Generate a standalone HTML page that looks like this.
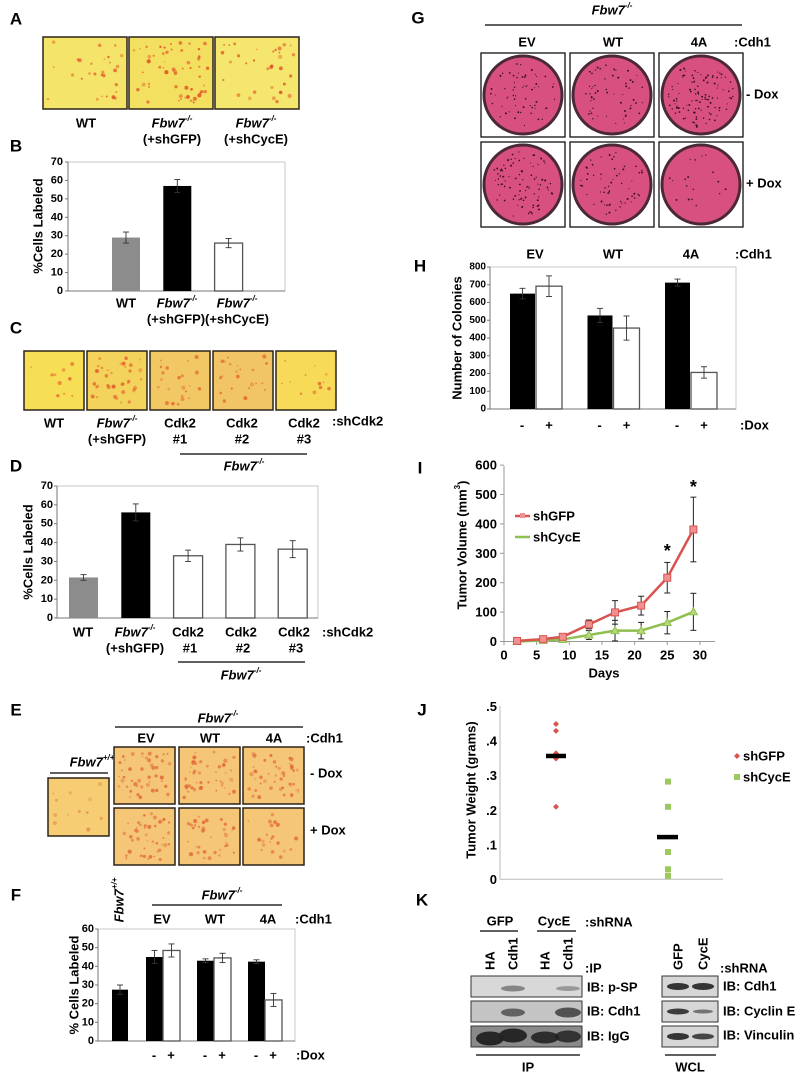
<!DOCTYPE html>
<html><head><meta charset="utf-8"><style>
html,body{margin:0;padding:0;background:#fff}
svg{display:block;font-family:"Liberation Sans",Arial,sans-serif;font-weight:bold}
text{fill:#000}
</style></head><body>
<svg id="fig" width="800" height="1073" viewBox="0 0 800 1073" xmlns="http://www.w3.org/2000/svg">
<g id="root"></g>
</svg>
<script>
// ---------- DATA ----------
const bCats = ["WT","Fbw7-/- (+shGFP)","Fbw7-/- (+shCycE)"];
const bVals = [29, 57, 26];
const bErr = [3, 3.5, 2.5];
const bTicks = [0,10,20,30,40,50,60,70];

const dCats = ["WT","Fbw7-/- (+shGFP)","Cdk2 #1","Cdk2 #2","Cdk2 #3"];
const dVals = [21.5, 56, 33, 39, 36.5];
const dErr = [1.5, 4.5, 3, 3.5, 4.5];
const dTicks = [0,10,20,30,40,50,60,70];

const fWT = 27.5, fWTErr = 2.5;
const fGroups = ["EV","WT","4A"];
const fMinus = [45, 43, 42.5];
const fMinusErr = [3.5, 1, 1];
const fPlus = [48.5, 44.5, 22];
const fPlusErr = [3.5, 2.5, 3.5];
const fTicks = [0,10,20,30,40,50,60];

const hGroups = ["EV","WT","4A"];
const hMinus = [650, 527, 712];
const hMinusErr = [30, 40, 20];
const hPlus = [692, 456, 206];
const hPlusErr = [58, 68, 32];
const hTicks = [0,100,200,300,400,500,600,700,800];

const iDays = [2,6,9,13,17,21,25,29];
const iGFP = [2, 8, 16, 58, 99, 122, 217, 381];
const iGFPErr = [0, 3, 5, 15, 40, 32, 52, 110];
const iCyc = [0, 4, 7, 22, 37, 37, 64, 101];
const iCycErr = [0, 2, 3, 15, 35, 28, 38, 63];
const iXTicks = [0,5,10,15,20,25,30];
const iYTicks = [0,100,200,300,400,500,600];

const jGFP = [0.45, 0.43, 0.365, 0.35, 0.21];
const jGFPMean = 0.358;
const jCyc = [0.283, 0.21, 0.079, 0.029, 0.01];
const jCycMean = 0.123;
const jTicks = [0,0.1,0.2,0.3,0.4,0.5];
const jTickLabels = ["0",".1",".2",".3",".4",".5"];

// ---------- HELPERS ----------
const NS = "http://www.w3.org/2000/svg";
const root = document.getElementById("root");
function mk(tag, attrs, name, parent){
  const el = document.createElementNS(NS, tag);
  for (const k in attrs) el.setAttribute(k, attrs[k]);
  
  
  (parent||root).appendChild(el);
  return el;
}
function txt(x,y,s,name,o){
  o=o||{};
  const el = mk("text",{x:x,y:y,"font-size":o.fs||13,"text-anchor":o.anchor||"middle","dominant-baseline":"central"},name);
  if(o.italic) el.setAttribute("font-style","italic");
  if(o.rot){ el.setAttribute("transform","rotate("+o.rot+" "+x+" "+y+")"); }
  el.textContent = s;
  return el;
}
function fbw(x,y,name,sup,fs,anchor,rot){
  const el = mk("text",{x:x,y:y,"font-size":fs||13,"text-anchor":anchor||"middle","dominant-baseline":"central","font-style":"italic"},name);
  if(rot) el.setAttribute("transform","rotate("+rot+" "+x+" "+y+")");
  el.appendChild(document.createTextNode("Fbw7"));
  const s = document.createElementNS(NS,"tspan");
  s.setAttribute("font-size","8"); s.setAttribute("dy","-5");
  s.textContent = sup||"-/-";
  el.appendChild(s);
  return el;
}
function line(x1,y1,x2,y2,name,c,w){return mk("line",{x1:x1,y1:y1,x2:x2,y2:y2,stroke:c||"#000","stroke-width":w||1.2},name);}
let seed=7;
function rnd(){seed=(seed*16807)%2147483647;return seed/2147483647;}
function micro(x,y,w,h,bg,dot,n,name){
  mk("rect",{x:x,y:y,width:w,height:h,fill:bg,stroke:"#2b2418","stroke-width":1.5},name);
  for(let i=0;i<n;i++){
    mk("circle",{cx:x+5+rnd()*(w-10),cy:y+5+rnd()*(h-10),r:0.8+rnd()*1.3,fill:dot,opacity:0.35+rnd()*0.45},name+"-cell");
  }
}
function plate(x,y,w,h,n,name){
  mk("rect",{x:x,y:y,width:w,height:h,fill:"#fff",stroke:"#111","stroke-width":1.3},name);
  mk("ellipse",{cx:x+w/2,cy:y+h/2,rx:w/2-3,ry:h/2-3,fill:"#d8507f",stroke:"#4a2838","stroke-width":3},name+"-dish");
  for(let i=0;i<n;i++){
    const a=rnd()*6.283,r=Math.sqrt(rnd())*(w/2-9);
    mk("circle",{cx:x+w/2+Math.cos(a)*r,cy:y+h/2+Math.sin(a)*r,r:0.5+rnd()*0.5,fill:"#3a0e22"},name+"-colony");
  }
}
function yAxis(x0,x1,yb,yt,ticks,max,labels,fs,lx){
  const sc=v=>yb-(v/max)*(yb-yt);
  mk("rect",{x:x0,y:yt,width:x1-x0,height:yb-yt,fill:"none",stroke:"#c8c8c8","stroke-width":1},"plot-frame");
  line(x0,yt,x0,yb,"y-axis","#777",1);
  line(x0,yb,x1,yb,"x-axis","#777",1);
  ticks.forEach((t,i)=>{
    line(x0-3,sc(t),x0,sc(t),"y-tick","#777",1);
    txt(lx||x0-4,sc(t),labels?labels[i]:String(t),"y-tick-label",{fs:fs||11,anchor:"end"});
  });
  return sc;
}
function bar(x,w,v,err,sc,fill,name){
  const y=sc(v), yb=sc(0);
  mk("rect",{x:x,y:y,width:w,height:yb-y,fill:fill,stroke:fill==="#fff"?"#555":"none","stroke-width":1.3},name);
  if(err){
    const cx=x+w/2;
    line(cx,sc(v+err),cx,sc(v-err),name+"-error","#333",0.9);
    line(cx-3,sc(v+err),cx+3,sc(v+err),name+"-error-cap","#333",0.9);
    line(cx-3,sc(v-err),cx+3,sc(v-err),name+"-error-cap","#333",0.9);
  }
}

// ---------- PANEL A ----------
txt(16,19,"A","panel-label-a",{fs:17});
[[43,"#f4e46a"],[129,"#f3e060"],[215,"#f5e66e"]].forEach((p,i)=>micro(p[0],37,84,72,p[1],"#e0401e",[28,55,32][i],"micrograph-a-"+(i+1)));
txt(86,123,"WT","label-a-wt");
fbw(172,123,"label-a-fbw7-1"); txt(172,139,"(+shGFP)","label-a-shgfp");
fbw(256,123,"label-a-fbw7-2"); txt(256,139,"(+shCycE)","label-a-shcyce");

// ---------- PANEL B ----------
txt(16,146,"B","panel-label-b",{fs:17});
{
  const sc=yAxis(68,285,291,162,bTicks,70,null,11,63);
  const colors=["#8c8c8c","#000","#fff"];
  const bx=i=>112+i*51.3;
  bVals.forEach((v,i)=>bar(bx(i),28,v,bErr[i],sc,colors[i],"bar-b-"+(i+1)));
  txt(38,226,"%Cells Labeled","y-axis-title-b",{fs:13,rot:-90});
  txt(126,303,"WT","x-label-b-wt");
  fbw(177,303,"x-label-b-fbw7-1"); fbw(237,303,"x-label-b-fbw7-2");
  txt(176,319,"(+shGFP)","x-label-b-shgfp"); txt(237,319,"(+shCycE)","x-label-b-shcyce");
}

// ---------- PANEL C ----------
txt(16,328,"C","panel-label-c",{fs:17});
[[24,"#f6de55"],[87,"#f4d35c"],[150,"#f2c865"],[213,"#f1c466"],[276,"#f6da58"]].forEach((p,i)=>micro(p[0],351,60,59,p[1],"#e25a2a",[10,40,22,22,12][i],"micrograph-c-"+(i+1)));
txt(54,423,"WT","label-c-wt");
fbw(117,423,"label-c-fbw7"); txt(117,439,"(+shGFP)","label-c-shgfp");
["1","2","3"].forEach((n,i)=>{txt(180+i*62,423,"Cdk2","label-c-cdk2-"+n);txt(180+i*62,439,"#"+n,"label-c-num-"+n);});
txt(332,421,":shCdk2","label-c-shcdk2",{anchor:"start"});
line(180,454,307,454,"bracket-c");
fbw(244,466,"label-c-fbw7-bracket");

// ---------- PANEL D ----------
txt(16,466,"D","panel-label-d",{fs:17});
{
  const sc=yAxis(57,318,618,486,dTicks,70,null,11,53);
  const colors=["#8c8c8c","#000","#fff","#fff","#fff"];
  const bx=i=>69+i*52.3;
  dVals.forEach((v,i)=>bar(bx(i),29,v,dErr[i],sc,colors[i],"bar-d-"+(i+1)));
  txt(28,552,"%Cells Labeled","y-axis-title-d",{fs:13,rot:-90});
  txt(83,632,"WT","x-label-d-wt");
  fbw(135,632,"x-label-d-fbw7"); txt(135,648,"(+shGFP)","x-label-d-shgfp");
  ["1","2","3"].forEach((n,i)=>{txt(188+i*53,632,"Cdk2","x-label-d-cdk2-"+n);txt(188+i*53+2,648,"#"+n,"x-label-d-num-"+n);});
  txt(322,632,":shCdk2","x-label-d-shcdk2",{anchor:"start"});
  line(178,662,305,662,"bracket-d");
  fbw(241,675,"x-label-d-fbw7-bracket");
}

// ---------- PANEL E ----------
txt(16,710,"E","panel-label-e",{fs:17});
fbw(218,718,"label-e-fbw7");
line(115,727,303,727,"bracket-e");
["EV","WT","4A"].forEach((s,i)=>txt(146+i*64,738,s,"label-e-"+s.toLowerCase(),{fs:13}));
txt(306,738,":Cdh1","label-e-cdh1",{anchor:"start",fs:13});
fbw(92,762,"label-e-fbw7-wt","+/+");
line(50,773,108,773,"bracket-e-wt");
micro(48,778,61,58,"#f6cd72","#e08050",12,"micrograph-e-wt");
[114,179,243].forEach((x,i)=>{
  micro(x,747,61,57,"#f5c676","#e06035",45,"micrograph-e-minus-"+(i+1));
  micro(x,808,61,57,"#f5c676","#e06035",[45,35,20][i],"micrograph-e-plus-"+(i+1));
});
txt(310,773,"- Dox","label-e-minus-dox",{anchor:"start",fs:13});
txt(310,830,"+ Dox","label-e-plus-dox",{anchor:"start",fs:13});

// ---------- PANEL F ----------
txt(16,895,"F","panel-label-f",{fs:17});
fbw(119,900,"label-f-fbw7-wt","+/+",13,"middle",-90);
fbw(222,895,"label-f-fbw7");
line(152,905,282,905,"bracket-f");
fGroups.forEach((s,i)=>txt(162+i*53,919,s,"label-f-"+s.toLowerCase(),{fs:13}));
txt(295,919,":Cdh1","label-f-cdh1",{anchor:"start",fs:13});
{
  const sc=yAxis(98,295,1041,929,fTicks,60,null,11,94);
  bar(112,16,fWT,fWTErr,sc,"#000","bar-f-wt");
  const gx=i=>146+i*51;
  fGroups.forEach((g,i)=>{
    bar(gx(i),17,fMinus[i],fMinusErr[i],sc,"#000","bar-f-"+g.toLowerCase()+"-minus");
    bar(gx(i)+17,17,fPlus[i],fPlusErr[i],sc,"#fff","bar-f-"+g.toLowerCase()+"-plus");
    txt(gx(i)+8,1055,"-","x-label-f-minus");
    txt(gx(i)+25,1055,"+","x-label-f-plus");
  });
  txt(296,1055,":Dox","x-label-f-dox",{anchor:"start",fs:13});
  txt(74,985,"% Cells Labeled","y-axis-title-f",{fs:13,rot:-90});
}

// ---------- PANEL G ----------
txt(418,18,"G","panel-label-g",{fs:17});
fbw(612,10,"label-g-fbw7");
line(485,25,742,25,"bracket-g");
["EV","WT","4A"].forEach((s,i)=>txt(527+i*86,42,s,"label-g-"+s.toLowerCase(),{fs:13}));
txt(734,42,":Cdh1","label-g-cdh1",{anchor:"start",fs:13});
[481,570,659].forEach((x,i)=>{
  plate(x,53,84,84,[60,55,110][i],"plate-minus-"+(i+1));
  plate(x,142,84,85,[90,60,18][i],"plate-plus-"+(i+1));
});
txt(746,94,"- Dox","label-g-minus-dox",{anchor:"start",fs:13});
txt(746,183,"+ Dox","label-g-plus-dox",{anchor:"start",fs:13});

// ---------- PANEL H ----------
txt(420,266,"H","panel-label-h",{fs:17});
hGroups.forEach((s,i)=>txt(535+i*78,254,s,"label-h-"+s.toLowerCase(),{fs:13}));
txt(735,254,":Cdh1","label-h-cdh1",{anchor:"start",fs:13});
{
  const sc=yAxis(490,736,409,267,hTicks,800,null,10,486);
  const gx=i=>510+i*77.5;
  hGroups.forEach((g,i)=>{
    bar(gx(i),25,hMinus[i],hMinusErr[i],sc,"#000","bar-h-"+g.toLowerCase()+"-minus");
    bar(gx(i)+26,26,hPlus[i],hPlusErr[i],sc,"#fff","bar-h-"+g.toLowerCase()+"-plus");
    txt(gx(i)+12,425,"-","x-label-h-minus");
    txt(gx(i)+39,425,"+","x-label-h-plus");
  });
  txt(740,425,":Dox","x-label-h-dox",{anchor:"start",fs:13});
  txt(457,338,"Number of Colonies","y-axis-title-h",{fs:13,rot:-90});
}

// ---------- PANEL I ----------
txt(420,468,"I","panel-label-i",{fs:17});
{
  const xs=d=>504+d*6.53, ys=v=>641.5-v*0.294;
  line(504,466,504,641.5,"y-axis-i","#999",1);
  line(504,641.5,715,641.5,"x-axis-i","#999",1);
  iYTicks.forEach(t=>{line(500,ys(t),504,ys(t),"y-tick-i","#999",1);txt(497,ys(t),String(t),"y-tick-label-i",{anchor:"end",fs:13});});
  iXTicks.forEach(t=>{line(xs(t),641.5,xs(t),645,"x-tick-i","#999",1);txt(xs(t),655,String(t),"x-tick-label-i",{fs:13});});
  txt(604,673,"Days","x-axis-title-i",{fs:13});
  const yl=txt(462,545,"Tumor Volume (mm","y-axis-title-i",{fs:13,rot:-90});
  const sup=document.createElementNS(NS,"tspan");sup.setAttribute("font-size","8");sup.setAttribute("dy","-5");sup.textContent="3";yl.appendChild(sup);
  const cl=document.createElementNS(NS,"tspan");cl.setAttribute("dy","5");cl.textContent=")";yl.appendChild(cl);
  function series(vals,errs,color,name,marker){
    vals.forEach((v,i)=>{const x=xs(iDays[i]);
      line(x,ys(v+errs[i]),x,ys(Math.max(0,v-errs[i])),name+"-error","#222",1);
      line(x-3,ys(v+errs[i]),x+3,ys(v+errs[i]),name+"-error-cap","#222",1);
      line(x-3,ys(Math.max(0,v-errs[i])),x+3,ys(Math.max(0,v-errs[i])),name+"-error-cap","#222",1);});
    mk("polyline",{points:vals.map((v,i)=>xs(iDays[i])+","+ys(v)).join(" "),fill:"none",stroke:color,"stroke-width":2.5},name+"-line");
    vals.forEach((v,i)=>{const x=xs(iDays[i]),y=ys(v);
      if(marker==="sq") mk("rect",{x:x-3.5,y:y-3.5,width:7,height:7,fill:"#f09090",stroke:color,"stroke-width":1},name+"-point");
      else mk("polygon",{points:(x)+","+(y-4)+" "+(x+4)+","+(y+3)+" "+(x-4)+","+(y+3),fill:"#b8d878",stroke:color,"stroke-width":1},name+"-point");});
  }
  series(iCyc,iCycErr,"#8fbf50","series-shcyce","tri");
  series(iGFP,iGFPErr,"#d9534f","series-shgfp","sq");
  txt(xs(25),551,"*","star-day25",{fs:18});
  txt(xs(29),487,"*","star-day29",{fs:18});
  line(515,516,530,516,"legend-line-shgfp","#d9534f",2.5);
  mk("rect",{x:520,y:513,width:5,height:5,fill:"#f09090"},"legend-marker-shgfp");
  txt(533,516,"shGFP","legend-label-shgfp",{anchor:"start",fs:13});
  line(515,537,530,537,"legend-line-shcyce","#8fbf50",2.5);
  txt(533,537,"shCycE","legend-label-shcyce",{anchor:"start",fs:13});
}

// ---------- PANEL J ----------
txt(422,710,"J","panel-label-j",{fs:17});
{
  const ys=v=>879.3-v*345.2;
  line(500,706,500,879.3,"y-axis-j","#bbb",1);
  line(500,879.3,723,879.3,"x-axis-j","#bbb",1);
  jTicks.forEach((t,i)=>txt(497,ys(t),jTickLabels[i],"y-tick-label-j",{anchor:"end",fs:13}));
  txt(471,790,"Tumor Weight (grams)","y-axis-title-j",{fs:13,rot:-90});
  jGFP.forEach(v=>{const y=ys(v);mk("polygon",{points:"556,"+(y-3)+" 559,"+y+" 556,"+(y+3)+" 553,"+y,fill:"#d9534f"},"point-shgfp");});
  mk("rect",{x:546,y:ys(jGFPMean)-2,width:20,height:4.5,fill:"#000"},"mean-shgfp");
  jCyc.forEach(v=>{mk("rect",{x:665,y:ys(v)-3,width:6,height:6,fill:"#9cc860"},"point-shcyce");});
  mk("rect",{x:657,y:ys(jCycMean)-2,width:21,height:4.5,fill:"#000"},"mean-shcyce");
  mk("polygon",{points:"737,753 740,756 737,759 734,756",fill:"#d9534f"},"legend-marker-shgfp-j");
  txt(743,756,"shGFP","legend-label-shgfp-j",{anchor:"start",fs:13});
  mk("rect",{x:734,y:774,width:6,height:6,fill:"#9cc860"},"legend-marker-shcyce-j");
  txt(743,777,"shCycE","legend-label-shcyce-j",{anchor:"start",fs:13});
}

// ---------- PANEL K ----------
txt(422,900,"K","panel-label-k",{fs:17});
txt(500,921,"GFP","label-k-gfp"); txt(554,921,"CycE","label-k-cyce");
txt(585,922,":shRNA","label-k-shrna",{anchor:"start"});
line(480,931,518,931,"bracket-k-gfp"); line(537,931,576,931,"bracket-k-cyce");
[[490,"HA"],[513,"Cdh1"],[545,"HA"],[568,"Cdh1"]].forEach(p=>txt(p[0],970,p[1],"label-k-ip-"+p[1].toLowerCase(),{anchor:"start",rot:-90}));
txt(585,968,":IP","label-k-ip",{anchor:"start"});
[678,703].forEach((x,i)=>txt(x,970,["GFP","CycE"][i],"label-k-wcl-"+i,{anchor:"start",rot:-90}));
txt(720,968,":shRNA","label-k-wcl-shrna",{anchor:"start"});
function blot(x,y,w,h,bg,bands,name){
  mk("rect",{x:x,y:y,width:w,height:h,fill:bg,stroke:"#333","stroke-width":1},name);
  bands.forEach(b=>mk("ellipse",{cx:b[0],cy:y+h/2+(b[3]||0),rx:b[1],ry:b[2],fill:"#222",opacity:b[4]||0.8},name+"-band"));
}
blot(471,976,111,21,"#d8d8d8",[[513,12,3,2,0.45],[568,12,2.5,2,0.35]],"blot-ip-psp");
blot(471,1001,111,21,"#c4c4c4",[[513,12,4,1,0.6],[568,13,5,1,0.7]],"blot-ip-cdh1");
blot(471,1026,111,21,"#8a8a8a",[[490,14,7,2,0.95],[513,14,7,-1,0.95],[545,14,6,1,0.9],[568,13,6,0,0.85]],"blot-ip-igg");
blot(662,976,56,21,"#d6d6d6",[[678,11,3.5,0,0.9],[703,11,3.5,0,0.9]],"blot-wcl-cdh1");
blot(662,1001,56,21,"#d6d6d6",[[678,11,3,0,0.85],[703,10,2,0,0.55]],"blot-wcl-cyclin-e");
blot(662,1026,56,21,"#d6d6d6",[[678,11,3.5,0,0.9],[703,11,3,0,0.8]],"blot-wcl-vinculin");
[["IB: p-SP",987],["IB: Cdh1",1011],["IB: IgG",1036]].forEach((p,i)=>txt(587,p[1],p[0],"label-k-ib-ip-"+i,{anchor:"start",fs:13}));
[["IB: Cdh1",986],["IB: Cyclin E",1011],["IB: Vinculin",1035]].forEach((p,i)=>txt(723,p[1],p[0],"label-k-ib-wcl-"+i,{anchor:"start",fs:13}));
line(476,1055,580,1055,"bracket-k-ip"); line(665,1055,716,1055,"bracket-k-wcl");
txt(528,1067,"IP","label-k-ip-bottom"); txt(690,1067,"WCL","label-k-wcl-bottom");
</script>
</body></html>
